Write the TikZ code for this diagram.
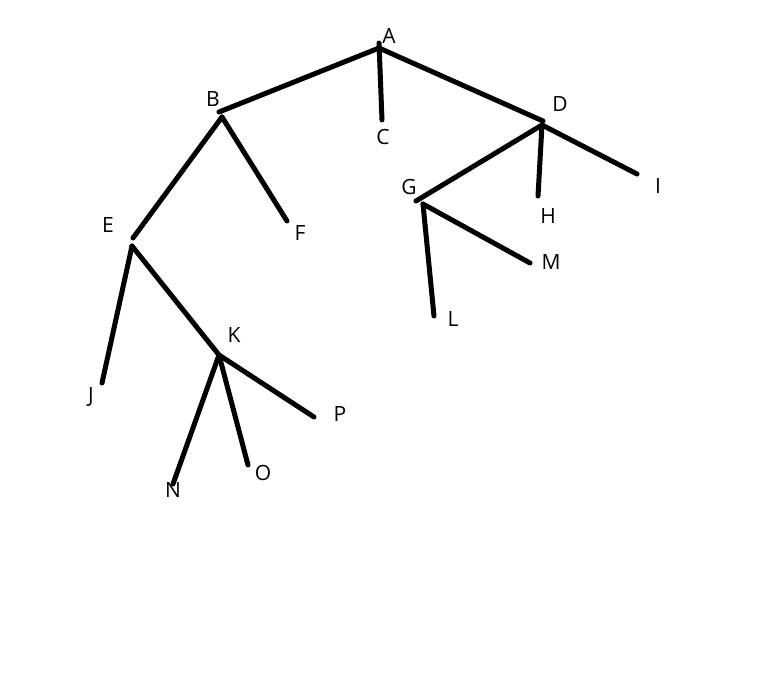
\documentclass[tikz,border=0pt]{standalone}
\usepackage{fontspec}
\setmainfont{Open Sans}
\begin{document}
\begin{tikzpicture}[x=1pt,y=-1pt,
  edge/.style={line width=5pt,line cap=round},
  lbl/.style={font=\fontsize{21}{24}\selectfont,inner sep=0pt}]
\useasboundingbox[fill=white] (0,0) rectangle (783,689);
% junction / end points
\coordinate (a) at (379,48);
\coordinate (atop) at (379,43);
\coordinate (b) at (219,112);
\coordinate (b2) at (222,117);
\coordinate (c) at (382,120);
\coordinate (d) at (543,121);
\coordinate (d2) at (542,125);
\coordinate (e) at (133,238);
\coordinate (e2) at (132,246);
\coordinate (f) at (287,221);
\coordinate (g) at (416,201);
\coordinate (g2) at (423,204);
\coordinate (h) at (538,196);
\coordinate (i) at (637,174);
\coordinate (j) at (102,383);
\coordinate (k) at (219,355);
\coordinate (l) at (434,316);
\coordinate (m) at (530,263);
\coordinate (n) at (173,484);
\coordinate (o) at (248,465);
\coordinate (p) at (314,417);
% edges
\draw[edge] (a) -- (b);
\draw[edge] (atop) -- (c);
\draw[edge] (a) -- (d);
\draw[edge] (b2) -- (e);
\draw[edge] (b2) -- (f);
\draw[edge] (d2) -- (g);
\draw[edge] (d2) -- (h);
\draw[edge] (d2) -- (i);
\draw[edge] (g2) -- (l);
\draw[edge] (g2) -- (m);
\draw[edge] (e2) -- (j);
\draw[edge] (e2) -- (k);
\draw[edge] (k) -- (n);
\draw[edge] (k) -- (o);
\draw[edge] (k) -- (p);
% labels
\node[lbl] (la) at (389,36) {A};
\node[lbl] (lb) at (213,99) {B};
\node[lbl] (lc) at (383,137) {C};
\node[lbl] (ld) at (560,104) {D};
\node[lbl] (le) at (108,225) {E};
\node[lbl] (lf) at (300,233) {F};
\node[lbl] (lg) at (409,187) {G};
\node[lbl] (lh) at (548,216) {H};
\node[lbl] (li) at (658,186) {I};
\node[lbl] (lj) at (91,397) {J};
\node[lbl] (lk) at (234,335) {K};
\node[lbl] (ll) at (453,319) {L};
\node[lbl] (lm) at (551,262) {M};
\node[lbl] (ln) at (173,490) {N};
\node[lbl] (lo) at (263,473) {O};
\node[lbl] (lp) at (340,414) {P};
\end{tikzpicture}
\end{document}
